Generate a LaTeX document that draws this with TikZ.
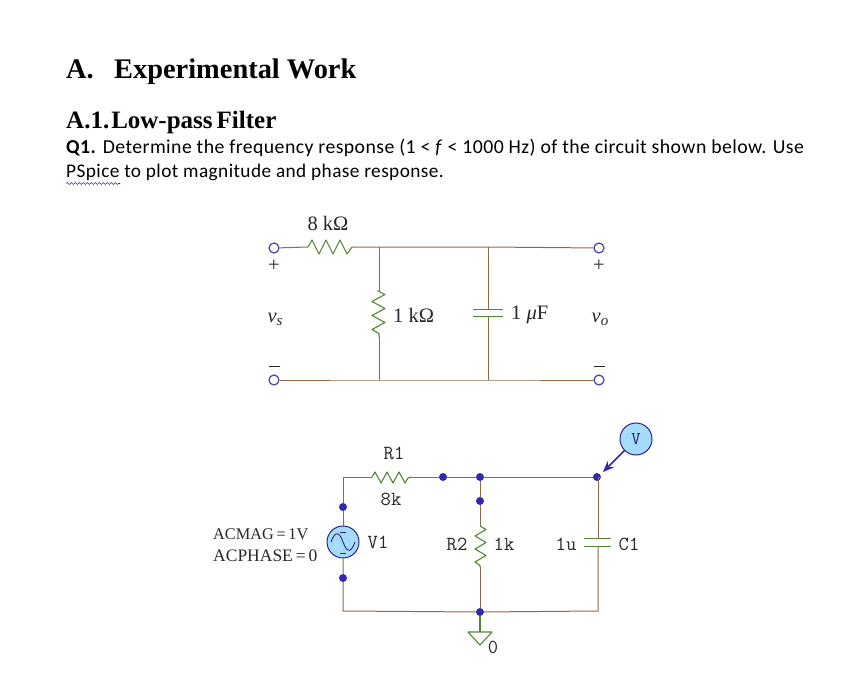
\documentclass[tikz,border=0pt]{standalone}
\usepackage{fontspec}
\setmainfont{Liberation Serif}
\newfontfamily\bodyf[LetterSpace=2.2]{Carlito}
\newfontfamily\headf{Liberation Serif}
\usetikzlibrary{decorations.pathmorphing,arrows.meta}
\definecolor{wirebrown}{RGB}{150,105,70}
\definecolor{resgreen}{RGB}{85,135,50}
\definecolor{termblue}{RGB}{70,70,170}
\definecolor{dotblue}{RGB}{50,40,180}
\definecolor{srcfill}{RGB}{165,220,250}
\definecolor{inktext}{RGB}{40,40,40}
\tikzset{
 x=1pt,y=-1pt,
 wire/.style={draw=wirebrown,line width=1pt},
 comp/.style={draw=resgreen,line width=1.1pt,line join=round},
 plate/.style={draw=resgreen,line width=0.8pt},
 term/.style={circle,draw=termblue,fill=white,line width=1.2pt,minimum size=10pt,inner sep=0pt},
 probe/.style={circle,fill=dotblue,minimum size=8pt,inner sep=0pt},
 src/.style={circle,draw=dotblue!80!black,fill=srcfill,line width=1pt,minimum size=32pt,inner sep=0pt},
 heading/.style={anchor=base west,inner sep=0,font=\headf\bfseries,text=black},
 bodytext/.style={anchor=base west,inner sep=0,font=\bodyf\fontsize{19.75}{22}\selectfont,text=black},
 slab/.style={inner sep=0,font=\fontsize{20.5}{22}\selectfont,text=inktext},
 mlab/.style={inner sep=0,font=\ttfamily\fontsize{20}{20}\selectfont,text=inktext},
 alab/.style={inner sep=0,anchor=base west,font=\fontsize{17.5}{20}\selectfont,text=inktext},
}
\begin{document}
\begin{tikzpicture}
\useasboundingbox[fill=white] (0,0) rectangle (851,680);
% text
\node[heading,font=\headf\bfseries\fontsize{28.4}{32}\selectfont] (ha) at (66,78) {A.};
\node[heading,font=\headf\bfseries\fontsize{28.4}{32}\selectfont] (hb) at (114,78) {Experimental Work};
\node[heading,font=\headf\bfseries\fontsize{25}{30}\selectfont] (hc) at (66,128) {A.1.\hspace{2pt}Low-pass\hspace{4pt}Filter};
\node[bodytext] (q1) at (66,153) {\textbf{Q1.} Determine the frequency response (1 < \textit{f} < 1000 Hz) of the circuit shown below. Use};
\node[bodytext,font=\bodyf\fontsize{19.3}{22}\selectfont] (q2) at (66,177) {PSpice to plot magnitude and phase response.};
\coordinate (ua) at (66,183.5); \coordinate (ub) at (120,183.5);
\draw[dotblue,line width=0.6pt,decorate,decoration={snake,amplitude=1pt,segment length=4pt}] (ua) -- (ub);
% top circuit
\node[term] (ti) at (274,248) {};
\node[term] (to) at (599,248) {};
\node[term] (bi) at (274,380) {};
\node[term] (bo) at (599,380) {};
\coordinate (ja) at (379,247); \coordinate (jb) at (488,247);
\coordinate (jc) at (379,380); \coordinate (jd) at (488,380);
\coordinate (ra) at (308,247); \coordinate (rb) at (352,247);
\coordinate (va) at (379,291); \coordinate (vb) at (379,337);
\coordinate (ca) at (488,309); \coordinate (cb) at (488,316);
\draw[wire] (ti) -- (ra) (rb) -- (ja) -- (jb) -- (to);
\draw[wire] (bi) -- (jc) -- (jd) -- (bo);
\draw[wire] (ja) -- (va) (vb) -- (jc);
\draw[wire] (jb) -- (ca) (cb) -- (jd);
\draw[comp] (ra) -- ++(4,-7) -- ++(7,14) -- ++(7,-14) -- ++(7,14) -- ++(7,-14) -- ++(7,14) -- (rb);
\draw[comp] (va) -- ++(-1,0) -- ++(7,3.5) -- ++(-13,7) -- ++(13,7) -- ++(-13,7) -- ++(13,7) -- ++(-13,7) -- ++(7,4) -- (vb);
\draw[plate] (473,309) -- (503,309) (473,316) -- (503,316);
\node[slab] (l8k) at (328,223) {8 kΩ};
\node[slab,anchor=west] (l1k) at (393,315) {1 kΩ};
\node[slab,anchor=west] (l1u) at (511,315) {1 \textit{μ}F};
\node[slab] (pi) at (274,266) {+};
\node[slab] (po) at (599,266) {+};
\node[slab] (mi) at (274,366) {\rule{11pt}{0.9pt}};
\node[slab] (mo) at (599,366) {\rule{11pt}{0.9pt}};
\node[slab,anchor=base] (vs) at (275,322) {\textit{v}\raisebox{-3pt}{\fontsize{15}{15}\selectfont\textit{s}}};
\node[slab,anchor=base] (vo) at (600,322) {\textit{v}\raisebox{-3pt}{\fontsize{15}{15}\selectfont\textit{o}}};
% bottom circuit
\coordinate (tl) at (343,477); \coordinate (bl) at (343,611);
\coordinate (tr) at (598,477); \coordinate (br) at (598,611);
\coordinate (r1a) at (372,477); \coordinate (r1b) at (411,477);
\coordinate (r2a) at (480,526); \coordinate (r2b) at (480,567);
\coordinate (c1a) at (598,538); \coordinate (c1b) at (598,546);
\coordinate (gt) at (480,632);
\node[probe] (d1) at (443,477) {};
\node[probe] (d2) at (480,477) {};
\node[probe] (d3) at (597,477) {};
\node[probe] (d4) at (480,501) {};
\node[probe] (d5) at (343,507) {};
\node[probe] (d6) at (343,578) {};
\node[probe] (d7) at (480,612) {};
\node[src] (v1) at (343,542) {};
\node[src,minimum size=32pt] (vm) at (636,439) {};
\draw[wire] (v1) -- (d5) -- (tl) -- (r1a) (r1b) -- (d1) -- (d2) -- (d3) -- (tr) -- (c1a);
\draw[wire] (c1b) -- (br) -- (d7) -- (bl) -- (d6) -- (v1);
\draw[wire] (d2) -- (d4) -- (r2a) (r2b) -- (d7);
\draw[comp] (r1a) -- ++(3,-5) -- ++(6,11) -- ++(6,-11) -- ++(6,11) -- ++(6,-11) -- ++(6,11) -- ++(3,-5) -- (r1b);
\draw[comp] (r2a) -- ++(6,3.5) -- ++(-11,6.5) -- ++(11,6.5) -- ++(-11,6.5) -- ++(11,6.5) -- ++(-11,6.5) -- ++(5,3.5) -- (r2b);
\draw[plate] (584,538) -- (611,538) (584,546) -- (611,546);
\draw[comp] (d7) -- (gt);
\draw[comp] (468,632) -- (492,632) -- (480,645) -- cycle;
\draw[dotblue,line width=1.7pt,-{Stealth[length=11pt,width=9pt]}] (vm) -- (603,472);
% source glyphs
\draw[dotblue!80!black,line width=0.9pt] (331,542) .. controls (335,531) and (339,531) .. (343,542) .. controls (347,553) and (351,553) .. (355,542);
\draw[dotblue!80!black,line width=0.6pt] (340,532) -- (346,532) (340,553) -- (346,553);
\node[inner sep=0,font=\ttfamily\fontsize{18}{18}\selectfont,text=dotblue!70!black] (vt) at (636,439) {V};
\node[mlab] (lr1) at (394,453) {R1};
\node[mlab] (l8k2) at (391,499) {8k};
\node[mlab] (lv1) at (378,542) {V1};
\node[mlab] (lr2) at (457,544) {R2};
\node[mlab] (l1k2) at (504,544) {1k};
\node[mlab] (lu) at (566,544) {1u};
\node[mlab] (lc1) at (629,544) {C1};
\node[mlab,text=inktext] (l0) at (493,647) {0};
\node[alab,font=\fontsize{16.3}{20}\selectfont] (ac1) at (213,539) {ACMAG\,=\,1V};
\node[alab] (ac2) at (213,561) {ACPHASE\,=\,0};
\end{tikzpicture}
\end{document}
